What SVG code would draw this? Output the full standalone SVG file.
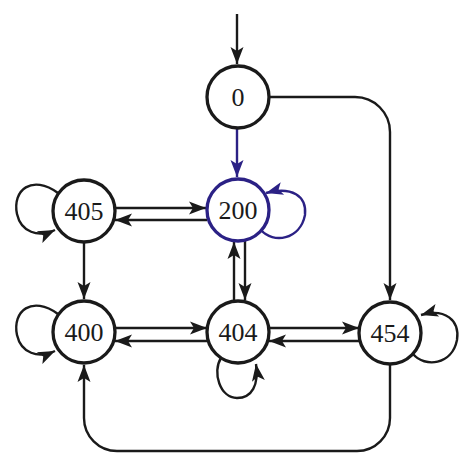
<svg xmlns="http://www.w3.org/2000/svg" width="474" height="470" viewBox="0 0 474 470">
<defs>
<marker id="ak" markerUnits="userSpaceOnUse" markerWidth="20" markerHeight="16" viewBox="0 -8 18 16" refX="17" refY="0" orient="auto">
<path d="M17,0 L0,-6.5 L4,0 L0,6.5 Z" fill="#1a1a1a"/>
</marker>
<marker id="ab" markerUnits="userSpaceOnUse" markerWidth="20" markerHeight="16" viewBox="0 -8 18 16" refX="17" refY="0" orient="auto">
<path d="M17,0 L0,-6.5 L4,0 L0,6.5 Z" fill="#2b2185"/>
</marker>
</defs>
<style>
.n{fill:#fff;stroke:#1a1a1a;stroke-width:3.3}
.nb{fill:#fff;stroke:#2b2185;stroke-width:3.3}
.t{font-family:"Liberation Serif","DejaVu Serif",serif;font-size:26px;fill:#1a1a1a;text-anchor:middle}
.e{fill:none;stroke:#1a1a1a;stroke-width:2.4;marker-end:url(#ak)}
.eb{fill:none;stroke:#2b2185;stroke-width:2.4;marker-end:url(#ab)}
</style>
<g id="connectors">
<path class="e" d="M237,14 V64"/>
<path class="eb" d="M237,129 V177"/>
<path class="e" d="M269,97 H355 A35,35 0 0 1 390,132 V300"/>
<path class="e" d="M116,208 H206"/>
<path class="e" d="M207,220 H115"/>
<path class="e" d="M84,243 V299"/>
<path class="e" d="M245,241 V300"/>
<path class="e" d="M234,302 V242"/>
<path class="e" d="M115,328 H207"/>
<path class="e" d="M207,341 H115"/>
<path class="e" d="M268,328 H359"/>
<path class="e" d="M359,341 H269"/>
<path class="e" d="M390,365 V418 A33,33 0 0 1 357,451 H117 A33,33 0 0 1 84,418 V365"/>
<path class="e" d="M58,193 C32,174 12,190 17,214 C21,232 38,238 55,230"/>
<path class="e" d="M58,314 C32,295 12,311 17,335 C21,353 38,359 55,351"/>
<path class="eb" d="M261,230 C273,244 300,240 305,215 C307,196 292,186 266,193"/>
<path class="e" d="M413,354 C425,368 452,365 457,340 C460,320 445,308 421,315"/>
<path class="e" d="M221,358 C212,372 220,398 237,398 C252,398 259,385 256,364"/>
</g>
<g id="n0"><circle class="n" cx="238" cy="97" r="31"/><text class="t" x="238" y="106">0</text></g>
<g id="n405"><circle class="n" cx="84" cy="211" r="31"/><text class="t" x="84" y="220">405</text></g>
<g id="n200"><circle class="nb" cx="238" cy="210" r="31"/><text class="t" x="238" y="219">200</text></g>
<g id="n400"><circle class="n" cx="84" cy="332" r="31"/><text class="t" x="84" y="341">400</text></g>
<g id="n404"><circle class="n" cx="238" cy="332" r="31"/><text class="t" x="238" y="341">404</text></g>
<g id="n454"><circle class="n" cx="390" cy="333" r="31"/><text class="t" x="390" y="342">454</text></g>
</svg>
